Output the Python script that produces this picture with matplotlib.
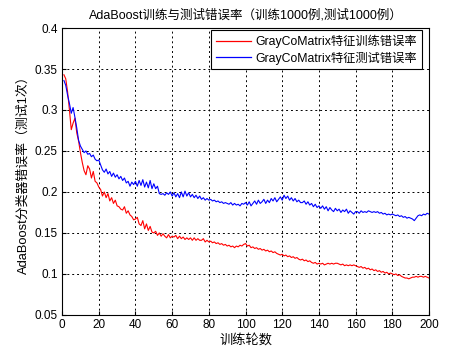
import matplotlib
matplotlib.use("Agg")
import matplotlib.pyplot as plt

plt.rcParams['font.family'] = ['Liberation Sans', 'Noto Sans CJK SC', 'DejaVu Sans']

rounds = list(range(1, 201))

train_err = [
    0.343, 0.338, 0.322, 0.300, 0.276, 0.284, 0.290, 0.272, 0.262, 0.248,
    0.236, 0.226, 0.221, 0.232, 0.228, 0.217, 0.225, 0.213, 0.211, 0.206,
    0.203, 0.195, 0.200, 0.193, 0.198, 0.189, 0.193, 0.186, 0.190, 0.183,
    0.182, 0.179, 0.178, 0.182, 0.174, 0.177, 0.172, 0.170, 0.166, 0.167,
    0.169, 0.161, 0.159, 0.165, 0.155, 0.161, 0.153, 0.158, 0.151, 0.150,
    0.152, 0.147, 0.150, 0.146, 0.149, 0.146, 0.144, 0.148, 0.144, 0.146,
    0.145, 0.147, 0.143, 0.146, 0.143, 0.145, 0.142, 0.144, 0.142, 0.144,
    0.141, 0.144, 0.141, 0.143, 0.141, 0.141, 0.143, 0.139, 0.141, 0.139,
    0.140, 0.138, 0.139, 0.137, 0.138, 0.136, 0.137, 0.135, 0.136, 0.134,
    0.135, 0.133, 0.134, 0.132, 0.134, 0.133, 0.135, 0.134, 0.136, 0.137,
    0.134, 0.135, 0.132, 0.133, 0.131, 0.132, 0.130, 0.131, 0.129, 0.130,
    0.128, 0.129, 0.127, 0.128, 0.126, 0.127, 0.125, 0.124, 0.123, 0.124,
    0.122, 0.123, 0.121, 0.122, 0.120, 0.121, 0.119, 0.120, 0.118, 0.117,
    0.118, 0.116, 0.117, 0.115, 0.116, 0.114, 0.113, 0.114, 0.112, 0.113,
    0.112, 0.113, 0.111, 0.112, 0.113, 0.112, 0.113, 0.112, 0.113, 0.113,
    0.112, 0.111, 0.112, 0.110, 0.111, 0.110, 0.111, 0.110, 0.111, 0.110,
    0.109, 0.108, 0.109, 0.107, 0.108, 0.106, 0.107, 0.105, 0.106, 0.104,
    0.105, 0.103, 0.104, 0.102, 0.103, 0.101, 0.102, 0.100, 0.101, 0.100,
    0.099, 0.100, 0.098, 0.099, 0.097, 0.096, 0.095, 0.095, 0.094, 0.095,
    0.096, 0.096, 0.097, 0.096, 0.097, 0.097, 0.096, 0.097, 0.096, 0.095,
]

test_err = [
    0.336, 0.330, 0.318, 0.308, 0.296, 0.303, 0.291, 0.278, 0.263, 0.256,
    0.252, 0.248, 0.250, 0.246, 0.247, 0.243, 0.245, 0.240, 0.238, 0.239,
    0.233, 0.227, 0.224, 0.228, 0.222, 0.225, 0.219, 0.223, 0.218, 0.221,
    0.216, 0.219, 0.214, 0.217, 0.211, 0.213, 0.207, 0.212, 0.209, 0.213,
    0.207, 0.214, 0.208, 0.215, 0.206, 0.212, 0.205, 0.214, 0.204, 0.210,
    0.204, 0.207, 0.198, 0.197, 0.198, 0.196, 0.199, 0.197, 0.200, 0.195,
    0.199, 0.194, 0.198, 0.193, 0.200, 0.194, 0.201, 0.195, 0.199, 0.194,
    0.197, 0.193, 0.196, 0.192, 0.195, 0.191, 0.193, 0.190, 0.192, 0.190,
    0.191, 0.189, 0.190, 0.188, 0.189, 0.187, 0.188, 0.186, 0.187, 0.186,
    0.185, 0.187, 0.184, 0.186, 0.184, 0.185, 0.183, 0.186, 0.185, 0.187,
    0.184, 0.188, 0.183, 0.186, 0.189, 0.185, 0.190, 0.186, 0.188, 0.191,
    0.186, 0.190, 0.187, 0.192, 0.189, 0.193, 0.188, 0.191, 0.194, 0.190,
    0.196, 0.192, 0.195, 0.190, 0.193, 0.189, 0.192, 0.188, 0.190, 0.187,
    0.187, 0.189, 0.185, 0.188, 0.184, 0.186, 0.182, 0.185, 0.181, 0.183,
    0.180, 0.183, 0.179, 0.182, 0.177, 0.181, 0.178, 0.176, 0.180, 0.177,
    0.179, 0.175, 0.178, 0.176, 0.179, 0.174, 0.177, 0.175, 0.173, 0.176,
    0.176, 0.174, 0.177, 0.175, 0.176, 0.175, 0.177, 0.176, 0.175, 0.176,
    0.175, 0.176, 0.174, 0.175, 0.173, 0.174, 0.172, 0.173, 0.172, 0.173,
    0.172, 0.171, 0.172, 0.170, 0.171, 0.169, 0.170, 0.168, 0.169, 0.168,
    0.167, 0.165, 0.168, 0.171, 0.172, 0.171, 0.173, 0.172, 0.174, 0.173,
]

xticks = [0, 20, 40, 60, 80, 100, 120, 140, 160, 180, 200]
yticks = [0.05, 0.1, 0.15, 0.2, 0.25, 0.3, 0.35, 0.4]
ytick_labels = ['0.05', '0.1', '0.15', '0.2', '0.25', '0.3', '0.35', '0.4']

title = 'AdaBoost训练与测试错误率（训练1000例,测试1000例）'
xlabel = '训练轮数'
ylabel = 'AdaBoost分类器错误率（测试1次）'
legend_labels = ['GrayCoMatrix特征训练错误率', 'GrayCoMatrix特征测试错误率']

fig = plt.figure(figsize=(4.74, 3.55), dpi=100)
ax = fig.add_axes([0.131, 0.113, 0.774, 0.808])

ax.plot(rounds, train_err, color='#ff0000', lw=0.8, label=legend_labels[0])
ax.plot(rounds, test_err, color='#0000ff', lw=0.8, label=legend_labels[1])

ax.set_xlim(0, 200)
ax.set_ylim(0.05, 0.4)
ax.set_xticks(xticks)
ax.set_yticks(yticks)
ax.set_yticklabels(ytick_labels)
ax.tick_params(direction='in', length=3, labelsize=8.5, colors='black', pad=3)
ax.grid(True, color='black', linestyle=(0, (2, 3)), linewidth=0.7)
for s in ax.spines.values():
    s.set_color('black')
    s.set_linewidth(0.8)

ax.set_title(title, fontsize=9, pad=7)
ax.set_xlabel(xlabel, fontsize=9.5, labelpad=2)
ax.set_ylabel(ylabel, fontsize=9.3, labelpad=4)

leg = ax.legend(loc='upper right', fontsize=8.8, fancybox=False, framealpha=1,
                edgecolor='black', handlelength=2.8, borderpad=0.4,
                labelspacing=0.25, handletextpad=0.4, borderaxespad=0,
                bbox_to_anchor=(0.981, 0.993))
leg.get_frame().set_linewidth(0.8)
for line in leg.get_lines():
    line.set_linewidth(0.9)

fig.savefig('out.png', dpi=100, facecolor='white')
